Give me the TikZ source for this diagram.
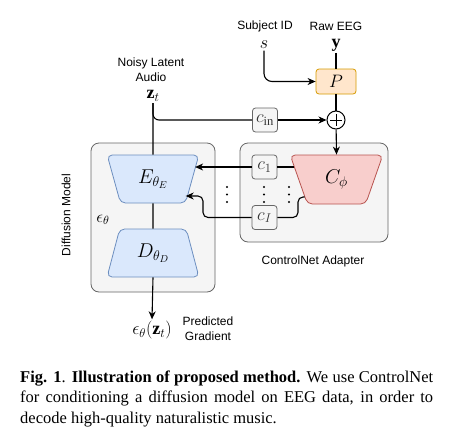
\RequirePackage{fix-cm}
\documentclass[tikz,border=0pt]{standalone}
\usepackage{fontspec}
\setmainfont{Liberation Serif}
\setsansfont{Liberation Sans}
\usetikzlibrary{shapes.geometric,arrows.meta}
\definecolor{boxfill}{HTML}{F5F5F5}
\definecolor{boxline}{HTML}{666666}
\definecolor{boxtext}{HTML}{333333}
\definecolor{bluefill}{HTML}{DAE8FC}
\definecolor{blueline}{HTML}{6C8EBF}
\definecolor{redfill}{HTML}{F8CECC}
\definecolor{redline}{HTML}{B85450}
\definecolor{orfill}{HTML}{FFE6CC}
\definecolor{orline}{HTML}{D79B00}
\begin{document}
\begin{tikzpicture}[x=1pt,y=-1pt,
  lbl/.style={font=\fontsize{12}{15}\selectfont\sffamily, align=center, inner sep=0pt},
  mth/.style={font=\fontsize{18}{20}\selectfont, inner sep=1.5pt},
  group/.style={draw=boxline, fill=boxfill, rounded corners=8pt, line width=0.8pt},
  cbox/.style={draw=boxline, fill=boxfill, text=boxtext, rounded corners=3pt, minimum width=25pt, minimum height=24pt, inner sep=0pt, line width=0.8pt, font=\fontsize{18}{20}\selectfont},
  trap/.style={trapezium, trapezium stretches=true, rounded corners=5pt, line width=0.8pt, inner sep=0pt, font=\fontsize{20}{22}\selectfont},
  widetop/.style={trapezium left angle=108, trapezium right angle=108},
  widebottom/.style={trapezium left angle=72, trapezium right angle=72},
  enc/.style={trap, draw=blueline, fill=bluefill},
  conn/.style={line width=1.1pt},
  arr/.style={conn, -{Stealth[length=8pt,width=7pt,inset=2.5pt]}},
]
\fill[white] (0,0) rectangle (474,445);
\useasboundingbox (0,0) rectangle (474,445);

% groups
\node[group, minimum width=124pt, minimum height=149pt] (dm) at (153,217.5) {};
\node[group, minimum width=148pt, minimum height=99pt] (cn) at (314,192.5) {};

% top labels
\node[lbl] (subj) at (265,26) {Subject ID};
\node[lbl] (raw) at (336,26) {Raw EEG};
\node[mth] (s) at (264,45) {$s$};
\node[mth] (y) at (336,45) {$\mathbf{y}$};
\node[draw=orline, fill=orfill, rounded corners=3pt, minimum width=40pt, minimum height=25pt, line width=0.8pt, inner sep=0pt, font=\fontsize{18}{20}\selectfont] (P) at (336,81.5) {$P$};
\node[circle, draw, fill=white, minimum size=18pt, inner sep=0pt, line width=1pt,
  path picture={\draw[line width=0.8pt] ([yshift=-3pt]path picture bounding box.north) -- ([yshift=3pt]path picture bounding box.south);
                \draw[line width=0.8pt] ([xshift=3pt]path picture bounding box.west) -- ([xshift=-3pt]path picture bounding box.east);}] (plus) at (336,120) {};

\node[lbl] (noisy) at (151,69.5) {Noisy Latent\\Audio};
\node[mth] (zt) at (153,96) {$\mathbf{z}_t$};

% diffusion model
\node[enc, widetop, minimum width=92pt, minimum height=48pt] (E) at (153,179) {$E_{\theta_E}$};
\node[enc, widebottom, minimum width=92pt, minimum height=48pt] (D) at (153,253) {$D_{\theta_D}$};
\node[mth, font=\fontsize{17}{19}\selectfont] (eps) at (103,220) {$\epsilon_\theta$};
\node[lbl, rotate=90] (dmlbl) at (66,215) {Diffusion Model};

% controlnet
\node[trap, draw=redline, fill=redfill, minimum width=93pt, minimum height=49pt, trapezium left angle=109, trapezium right angle=109] (C) at (336.5,179.5) {$C_\phi$};
\node[cbox] (cin) at (265,120) {$c_{\mathrm{in}}$};
\node[cbox] (c1) at (264.5,167) {$c_1$};
\node[cbox] (cI) at (264.5,217.5) {$c_I$};
\node[lbl] (cnlbl) at (313,261) {ControlNet Adapter};
\foreach \xx in {227,264,289}
  \foreach \yy in {187,194.5,202}
    \fill (\xx,\yy) circle[radius=1.1];

% output
\node[mth] (epsz) at (152,330) {$\epsilon_\theta(\mathbf{z}_t)$};
\node[lbl] (pg) at (208,329) {Predicted\\Gradient};

% connectors
\draw[conn] (y) -- (P);
\draw[arr, rounded corners=8pt] (s.south) |- (P.west);
\draw[conn] (P) -- (plus);
\draw[arr] (plus) -- (C.north);
\draw[conn] (zt) -- (E.north);
\draw[conn, rounded corners=6pt] (zt.south) |- (cin.west);
\draw[arr] (cin) -- (plus);
\draw[conn] (E.south) -- (D.north);
\draw[arr] (D.south) -- (epsz.north);
\coordinate (Ca) at (294.1,167);
\coordinate (Ea) at (195.1,167);
\coordinate (Cb) at (304.5,197);
\coordinate (Eb) at (185.7,196);
\draw[conn] (Ca) -- (c1.east);
\draw[arr] (c1.west) -- (Ea);
\draw[conn, rounded corners=5pt] (Cb) -- (298,197) -- (298,217.5) -- (cI.east);
\draw[arr, rounded corners=5pt] (cI.west) -- (203,217.5) -- (203,196) -- (Eb);

% caption
\node[anchor=north west, text width=413pt, align=justify, inner sep=0pt, font=\fontsize{16.5}{20.5}\selectfont] (cap) at (20,370.5) {\textbf{Fig. 1}. \textbf{Illustration of proposed method.} We use ControlNet\linebreak for conditioning a diffusion model on EEG data, in order to\linebreak decode high-quality naturalistic music.};
\end{tikzpicture}
\end{document}
